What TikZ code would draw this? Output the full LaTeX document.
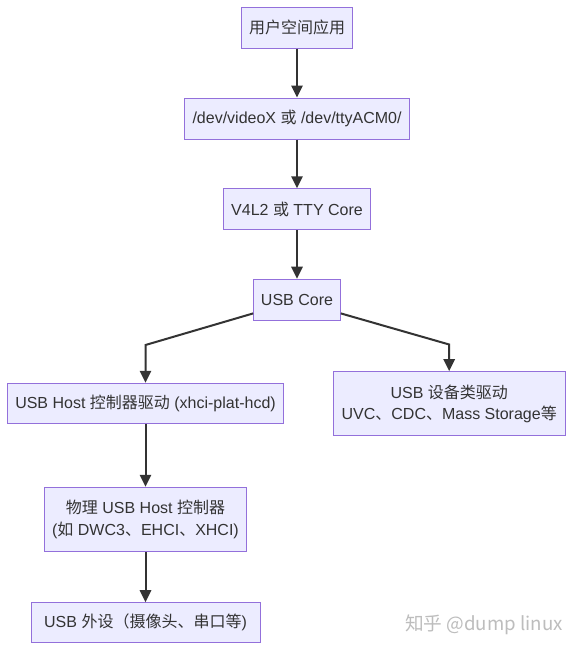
\documentclass[tikz,border=0pt]{standalone}
\usepackage{fontspec}
\setmainfont{Liberation Sans}
\newfontfamily\cjk{Noto Sans CJK SC}
\usetikzlibrary{arrows.meta,calc}
\definecolor{boxfill}{HTML}{ECECFF}
\definecolor{boxline}{HTML}{9370DB}
\definecolor{edgecol}{HTML}{333333}
\definecolor{txtcol}{HTML}{333333}
\definecolor{wmcol}{HTML}{BDBDBD}
\newcommand\zh[1]{{\cjk #1}}
\begin{document}
\begin{tikzpicture}[x=0.75pt,y=-0.75pt,
  box/.style={draw=boxline, fill=boxfill, line width=0.75pt, inner sep=0pt,
    align=center, text=txtcol, font=\fontsize{12}{16}\selectfont},
  arr/.style={draw=edgecol, line width=1.5pt, -{Triangle[length=9pt,width=8.5pt]}}]
\useasboundingbox[fill=white] (0,0) rectangle (572,651);

\node[box, minimum width=83.25pt, minimum height=30.75pt] (b1) at (297,27.5) {\zh{用户空间应用}};
\node[box, minimum width=168.2pt, minimum height=30.75pt] (b2) at (297,118.5) {/dev/videoX \zh{或} /dev/ttyACM0/};
\node[box, minimum width=110pt, minimum height=30.75pt] (b3) at (297,209.3) {V4L2 \zh{或} TTY Core};
\node[box, minimum width=65pt, minimum height=30.75pt] (b4) at (297,299.7) {USB Core};
\node[box, minimum width=207pt, minimum height=30pt] (b5) at (145.5,403.3) {USB Host \zh{控制器驱动} (xhci-plat-hcd)};
\node[box, minimum width=173.8pt, minimum height=48.2pt] (b6) at (449.2,403.8) {USB \zh{设备类驱动}\\UVC\zh{、}CDC\zh{、}Mass Storage\zh{等}};
\node[box, minimum width=151.5pt, minimum height=48.3pt] (b7) at (145.5,519.5) {\zh{物理} USB Host \zh{控制器}\\(\zh{如} DWC3\zh{、}EHCI\zh{、}XHCI)};
\node[box, minimum width=171.75pt, minimum height=30pt] (b8) at (145.5,622.7) {USB \zh{外设（摄像头、串口等}{)}};

\node[text=wmcol, font=\cjk\fontsize{14}{14}\selectfont] (wm) at (484,625) {知乎 @dump linux};

\draw[arr] (b1.south) -- (b2.north);
\draw[arr] (b2.south) -- (b3.north);
\draw[arr] (b3.south) -- (b4.north);

\coordinate (s1) at ($(b4.south west)+(0,-7.3)$);
\coordinate (k1) at (145.5,345);
\draw[arr] (s1) -- (k1) -- (k1 |- b5.north);

\coordinate (s2) at ($(b4.south east)+(0,-7.3)$);
\coordinate (k2) at (449.2,344.5);
\draw[arr] (s2) -- (k2) -- (k2 |- b6.north);

\draw[arr] (b5.south) -- (b7.north);
\draw[arr] (b7.south) -- (b8.north);
\end{tikzpicture}
\end{document}
